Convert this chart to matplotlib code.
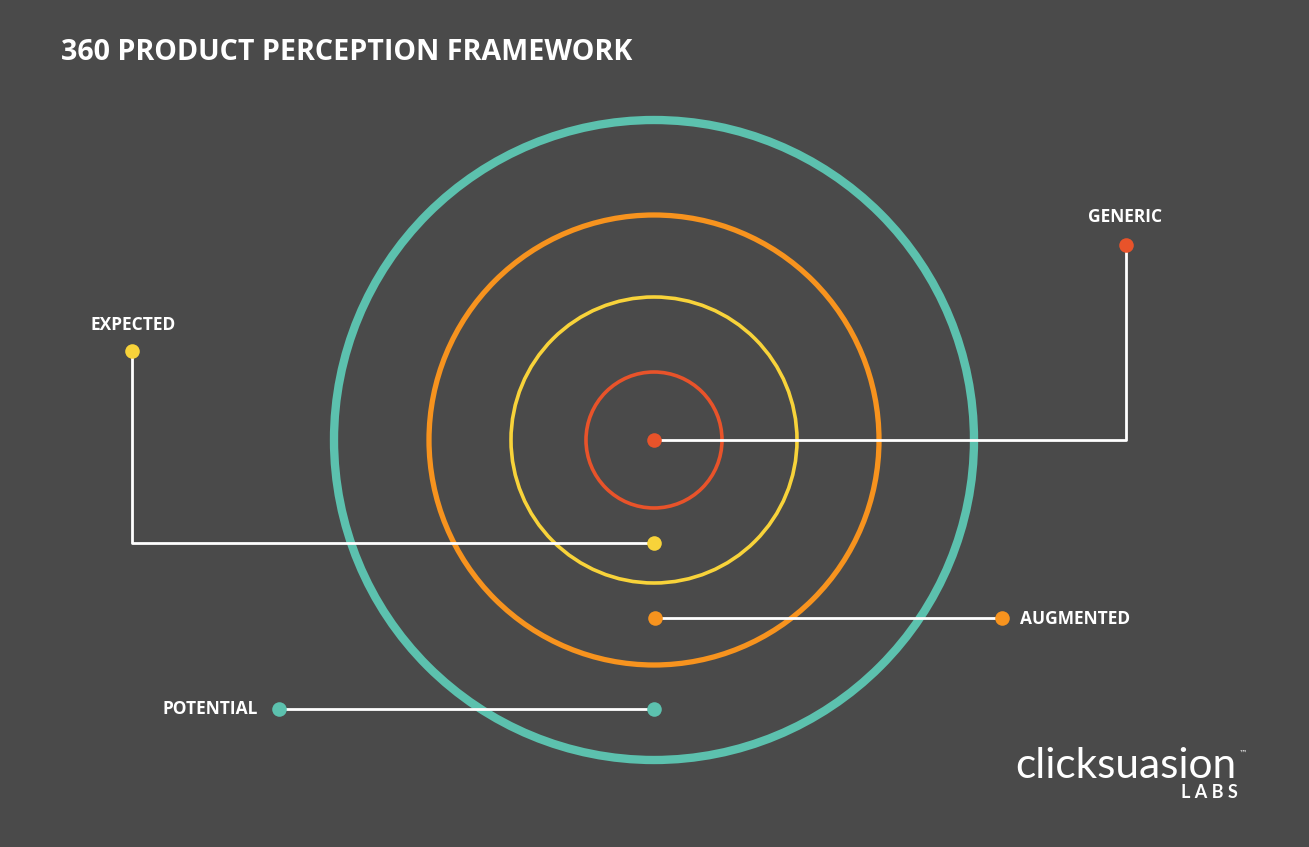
import matplotlib
matplotlib.use("Agg")
import matplotlib.pyplot as plt
from matplotlib.patches import Circle

W, H = 1309, 847
center = (654, 440)
ring_radii = [68, 143, 225, 320]
ring_colors = ["#e8532a", "#f8d33a", "#f7931e", "#5cc1ae"]
ring_widths = [2.6, 2.6, 3.8, 6.0]

labels = ["GENERIC", "EXPECTED", "AUGMENTED", "POTENTIAL"]
label_colors = ["#e8532a", "#f8d33a", "#f7931e", "#5cc1ae"]

fig = plt.figure(figsize=(W/100, H/100), dpi=100, facecolor="#4a4a4a")
ax = fig.add_axes([0, 0, 1, 1])
ax.set_xlim(0, W); ax.set_ylim(H, 0); ax.axis("off")
ax.set_facecolor("#4a4a4a")

for r, c, lw in zip(ring_radii, ring_colors, ring_widths):
    ax.add_patch(Circle(center, r, fill=False, ec=c, lw=lw))

lc = "white"; llw = 2
paths = [
    [(654, 440), (1126, 440), (1126, 245)],
    [(654, 543), (132, 543), (132, 351)],
    [(655, 618), (1002, 618)],
    [(654, 709), (279, 709)],
]
for p, c in zip(paths, label_colors):
    xs, ys = zip(*p)
    ax.plot(xs, ys, color=lc, lw=llw, zorder=3, solid_capstyle="butt")
    ax.scatter([xs[0], xs[-1]], [ys[0], ys[-1]], s=110, color=c, zorder=4, linewidths=0)

fp = dict(color="white", fontsize=12.5, fontweight="bold", family="Open Sans")
ax.text(1125, 217, labels[0], ha="center", va="center", **fp)
ax.text(133, 325, labels[1], ha="center", va="center", **fp)
ax.text(1020, 619, labels[2], ha="left", va="center", **fp)
ax.text(258, 709, labels[3], ha="right", va="center", **fp)

ax.text(61, 52, "360 PRODUCT PERCEPTION FRAMEWORK", color="white", fontsize=20.6,
        fontweight="bold", family="Open Sans", ha="left", va="center")

ax.text(1015, 766, "clicksuasion", color="white", fontsize=30.5, fontweight="normal",
        family="Lato", ha="left", va="center")
ax.text(1238, 793, "L A B S", color="white", fontsize=13, fontweight="bold",
        family="Lato", ha="right", va="center")
ax.text(1239, 753, "™", color="white", fontsize=6, family="DejaVu Sans", ha="left", va="center")

fig.savefig("out.png", dpi=100, facecolor=fig.get_facecolor())
